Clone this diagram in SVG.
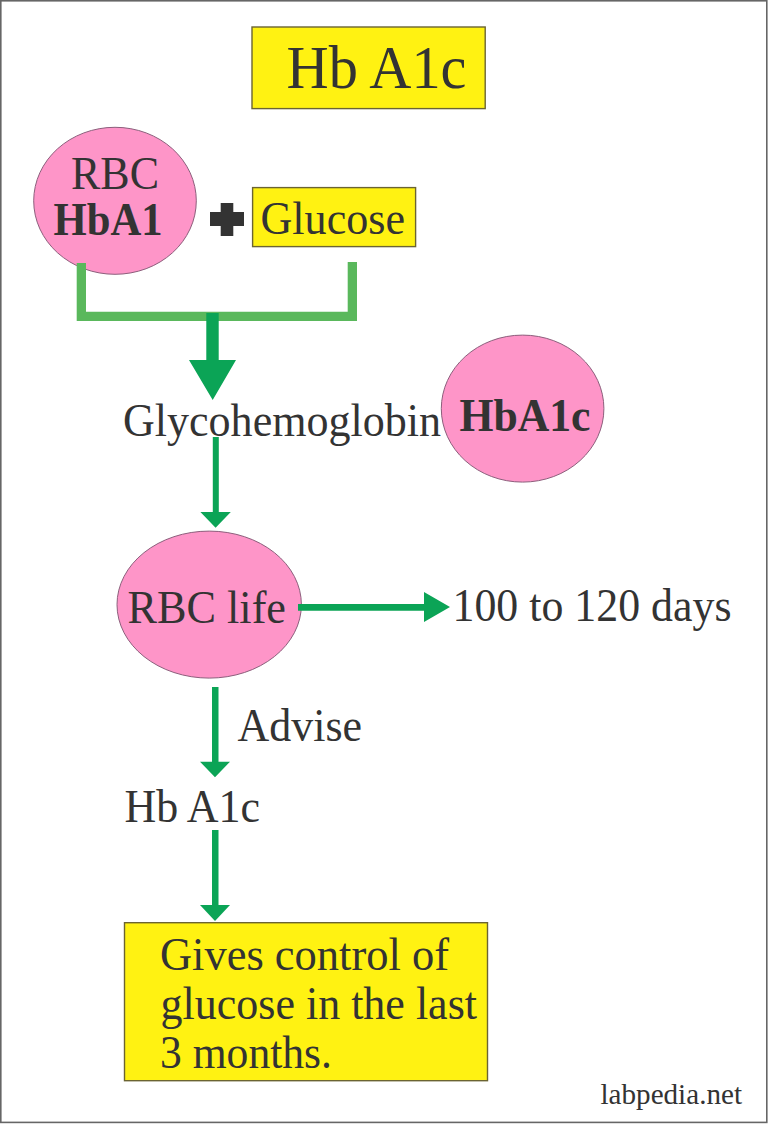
<svg xmlns="http://www.w3.org/2000/svg" width="768" height="1124" viewBox="0 0 768 1124">
<style>
text{font-family:"Liberation Serif","Times New Roman",serif;font-size:45.5px;fill:#333333}
.b{font-weight:700}
.y{fill:#fff212;stroke:#6b6432;stroke-width:1.4}
.p{fill:#fe95c8;stroke:#8c5f7c;stroke-width:1}
.a{fill:#0ba456}
.k{fill:#5ab85c}
</style>
<rect id="frame" x="0.8" y="0.8" width="766" height="1121.6" fill="#ffffff" stroke="#666666" stroke-width="1.6"/>
<g id="title"><rect class="y" x="252" y="27" width="233.2" height="81.6"/><text x="286.5" y="88" style="font-size:61px" textLength="180" lengthAdjust="spacingAndGlyphs">Hb A1c</text></g>
<g id="rbc-hba1"><ellipse class="p" cx="115" cy="200.8" rx="81.3" ry="73.5"/><text x="71" y="188.5" textLength="88" lengthAdjust="spacingAndGlyphs">RBC</text><text class="b" x="53.5" y="234.5" textLength="109" lengthAdjust="spacingAndGlyphs">HbA1</text></g>
<g id="plus"><path d="M220.7 203H233.3V212H244V226H233.3V236H220.7V226H210V212H220.7Z" fill="#333333"/></g>
<g id="glucose"><rect class="y" x="252.6" y="187.6" width="163" height="59"/><text x="260.5" y="234" textLength="144.5" lengthAdjust="spacingAndGlyphs">Glucose</text></g>
<g id="glycohemoglobin"><text x="123" y="435.5" textLength="318" lengthAdjust="spacingAndGlyphs">Glycohemoglobin</text></g>
<g id="hba1c"><ellipse class="p" cx="522.6" cy="408.6" rx="81.3" ry="73.5"/><text class="b" x="459.5" y="430.5" textLength="131" lengthAdjust="spacingAndGlyphs">HbA1c</text></g>
<g id="rbc-life"><ellipse class="p" cx="209.2" cy="604.6" rx="92.2" ry="73.5"/><text x="127.5" y="623" textLength="158.5" lengthAdjust="spacingAndGlyphs">RBC life</text></g>
<g id="days"><text x="452.5" y="620.5" textLength="279" lengthAdjust="spacingAndGlyphs">100 to 120 days</text></g>
<g id="advise"><text x="237.5" y="740.5" textLength="124.5" lengthAdjust="spacingAndGlyphs">Advise</text></g>
<g id="hba1c-test"><text x="124.5" y="822" textLength="135.5" lengthAdjust="spacingAndGlyphs">Hb A1c</text></g>
<g id="result"><rect class="y" x="124.5" y="922.7" width="363" height="158"/><text x="160" y="970" textLength="289" lengthAdjust="spacingAndGlyphs">Gives control of</text><text x="160.5" y="1018.7" textLength="316.5" lengthAdjust="spacingAndGlyphs">glucose in the last</text><text x="160" y="1067.5" textLength="172" lengthAdjust="spacingAndGlyphs">3 months.</text></g>
<g id="credit"><text x="600.5" y="1103.5" style="font-size:30px" textLength="141.5" lengthAdjust="spacingAndGlyphs">labpedia.net</text></g>
<g id="connectors">
<path class="k" d="M76.7 263H86V311.7H347.7V262H357V321H76.7Z"/>
<path class="a" d="M206.3 313H218.7V360H236L212.7 400L189 360H206.3Z"/>
<path class="a" d="M212.8 437H218.8V512H230.8L215.6 527.7L200.4 512H212.8Z"/>
<path class="a" d="M298 604H424V592L450 607L424 622V610.7H298Z"/>
<path class="a" d="M212 687H218.5V761.7H230L215 777.3L200 761.7H212Z"/>
<path class="a" d="M212 830H218.5V905H230L215 921L200 905H212Z"/>
</g>
</svg>
